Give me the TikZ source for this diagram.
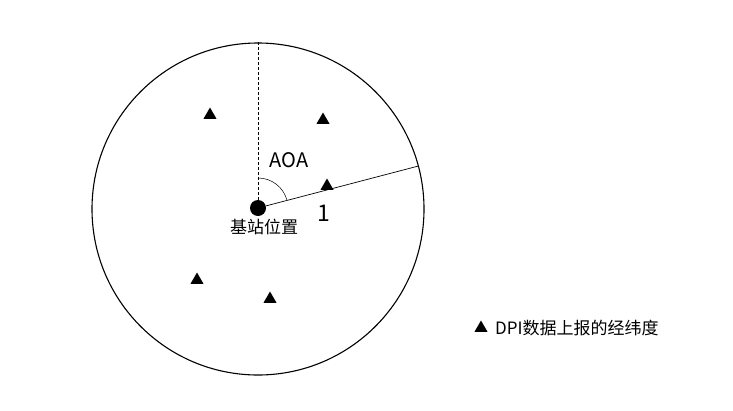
\documentclass[tikz,border=0pt]{standalone}
\usepackage{fontspec}
\setmainfont{Noto Sans CJK SC}
\usetikzlibrary{shapes.geometric,positioning}

\begin{document}
\begin{tikzpicture}[x=1pt,y=-1pt,font=\fontsize{17}{20}\selectfont,
  ue/.style={regular polygon,regular polygon sides=3,fill=black,inner sep=0pt,minimum size=15pt}]
  \useasboundingbox (0,0) rectangle (733,410);
  % coverage area and base station
  \node[circle,draw,line width=1.1pt,minimum size=332pt,inner sep=0pt] (cell) at (258,209) {};
  \node[circle,fill=black,minimum size=16pt,inner sep=0pt] (bs) at (258,208) {};
  \node[below=-1pt of bs,xshift=6pt] (bslabel) {基站位置};
  % reported positions
  \node[ue] (u1) at (210,115) {};
  \node[ue] (u2) at (323,120) {};
  \node[ue] (u3) at (327,186) {};
  \node[ue] (u4) at (197,280) {};
  \node[ue] (u5) at (270,299) {};
  % angle of arrival
  \draw[dash pattern=on 3pt off 2pt,line width=0.6pt] (bs) -- (cell.north);
  \draw[line width=0.7pt] (bs) -- (cell.15.4);
  \draw[line width=0.5pt] (bs.center) ++(0,-30) arc[start angle=-90,end angle=-15.4,radius=30];
  \node[font=\fontsize{20}{24}\selectfont] (aoa) at (289,160) {AOA};
  \node[font=\fontsize{23}{26}\selectfont] (one) at (324,213) {1};
  % legend
  \node[ue] (key) at (481,328) {};
  \node[right=6pt of key] (keylabel) {DPI数据上报的经纬度};
\end{tikzpicture}
\end{document}
